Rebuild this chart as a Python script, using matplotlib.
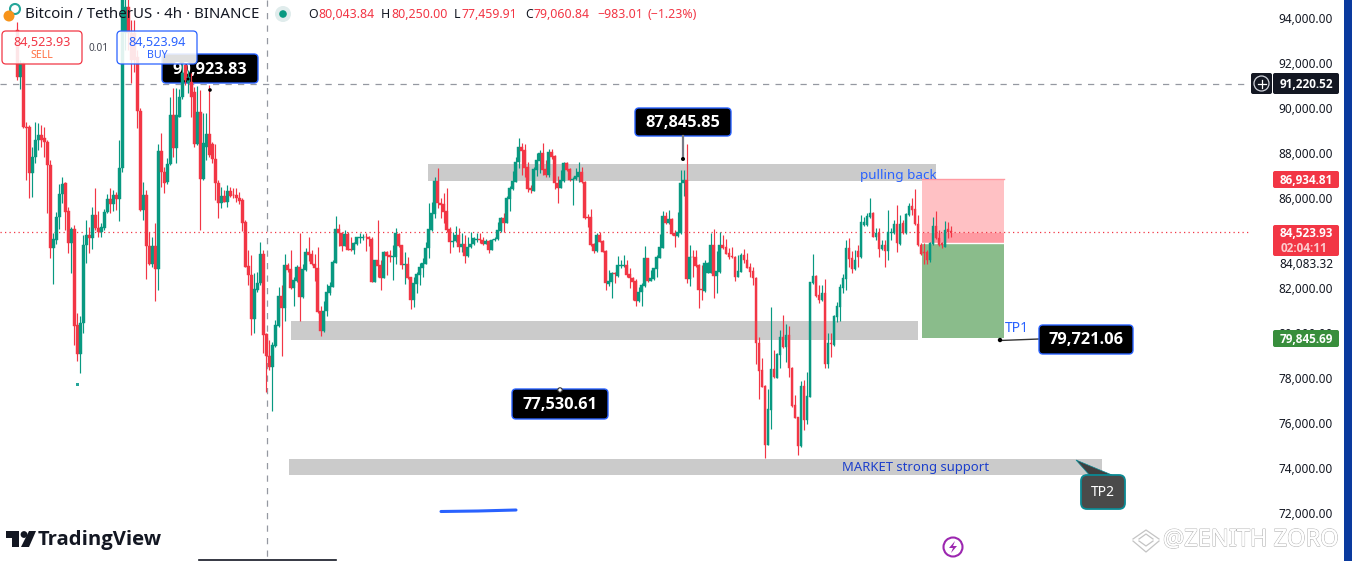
import matplotlib
matplotlib.use("Agg")
import matplotlib.pyplot as plt
import matplotlib.patheffects as pe
import matplotlib.transforms as mtransforms
from matplotlib.patches import FancyBboxPatch, Rectangle, Circle, Polygon

# 4h candles, prices in thousands of USDT
opens = [
    93.49, 91.41, 92.01, 89.19, 89.19, 87.12, 87.86, 88.60, 88.82, 88.67,
    88.52, 87.49, 83.78, 84.15, 85.16, 86.20, 86.67, 85.43, 84.03, 84.63,
    80.38, 79.10, 80.45, 83.93, 84.38, 84.26, 85.26, 84.67, 84.52, 84.67,
    85.40, 85.98, 85.77, 86.15, 85.98, 87.34, 93.34, 94.52, 93.34, 93.34,
    92.30, 89.90, 85.49, 86.15, 83.90, 83.09, 83.90, 82.86, 88.12, 87.19,
    86.75, 87.53, 89.71, 88.23, 89.63, 90.49, 91.93, 91.12, 91.19, 90.75,
    88.42, 89.86, 86.86, 88.30, 88.86, 88.42, 87.74, 86.70, 85.81, 86.11,
    85.84, 86.33, 86.15, 86.15, 86.03, 85.93, 84.95, 83.00, 82.60, 80.64,
    81.93, 82.23, 83.53, 79.97, 79.00, 78.52, 79.44, 80.35, 81.66, 81.15,
    83.04, 82.86, 82.03, 82.33, 82.94, 81.60, 82.82, 83.60, 83.53, 83.07,
    82.89, 81.01, 80.12, 81.01, 81.81, 82.08, 83.15, 84.64, 84.45, 83.89,
    84.42, 83.74, 83.71, 83.98, 84.23, 84.26, 84.30, 84.27, 84.20, 82.30,
    83.27, 83.05, 82.48, 83.61, 83.49, 83.42, 83.42, 84.42, 83.92, 83.05,
    83.08, 82.50, 81.49, 82.20, 82.62, 82.93, 83.09, 83.79, 84.60, 85.31,
    86.78, 85.79, 85.76, 85.45, 84.63, 84.08, 84.13, 84.38, 83.83, 83.98,
    83.46, 83.83, 83.98, 84.17, 84.20, 84.16, 83.98, 84.13, 83.71, 84.16,
    84.19, 84.57, 85.15, 84.93, 85.99, 86.42, 86.75, 87.61, 88.29, 88.16,
    87.40, 86.47, 86.35, 87.27, 87.68, 88.04, 87.30, 87.05, 88.07, 87.89,
    86.67, 86.47, 86.79, 87.59, 87.30, 86.82, 86.85, 86.97, 87.19, 86.75,
    85.16, 85.16, 83.98, 83.67, 84.38, 84.11, 83.67, 82.22, 82.30, 82.70,
    82.56, 83.02, 83.02, 83.05, 82.65, 82.45, 82.35, 81.46, 81.86, 82.13,
    83.34, 82.35, 82.42, 82.87, 83.37, 83.82, 85.22, 84.90, 85.08, 84.45,
    84.35, 84.45, 86.68, 86.82, 82.42, 83.42, 83.39, 83.05, 81.96, 81.89,
    82.70, 82.70, 83.93, 82.57, 82.75, 83.93, 83.86, 83.56, 83.45, 83.42,
    82.53, 82.75, 83.49, 83.27, 82.96, 82.78, 82.48, 79.59, 78.38, 77.67,
    75.05, 76.60, 78.42, 78.04, 79.05, 79.83, 79.42, 79.93, 78.45, 76.82,
    76.30, 75.02, 77.67, 76.16, 77.19, 82.23, 82.56, 81.71, 81.49, 81.79,
    78.65, 79.59, 79.49, 80.75, 81.19, 82.01, 82.42, 83.78, 83.34, 82.87,
    83.67, 83.40, 84.82, 84.82, 85.19, 85.34, 84.27, 84.45, 83.74, 83.93,
    83.68, 84.48, 84.45, 84.86, 83.98, 84.90, 84.45, 85.27, 85.67, 85.52,
    84.86, 83.93, 83.64, 83.61, 83.27, 83.98, 84.78, 84.23, 84.00, 83.86,
    84.63, 84.57,
]
closes = [
    91.41, 92.01, 89.19, 89.12, 87.12, 87.86, 88.60, 88.82, 88.60, 88.52,
    87.49, 83.78, 84.20, 85.19, 86.20, 86.64, 85.41, 84.03, 84.63, 80.35,
    79.10, 80.45, 83.93, 84.38, 84.26, 85.26, 84.67, 84.52, 84.73, 85.40,
    85.98, 85.77, 86.15, 85.98, 87.34, 95.71, 94.52, 93.34, 92.15, 92.15,
    89.90, 85.49, 86.15, 83.90, 83.09, 83.90, 82.86, 88.12, 87.19, 86.70,
    87.53, 89.71, 88.23, 89.71, 90.49, 91.56, 91.26, 91.41, 90.52, 88.42,
    89.86, 86.86, 88.45, 88.86, 87.93, 87.74, 86.70, 85.81, 86.11, 85.84,
    86.33, 86.11, 86.14, 86.00, 85.90, 84.92, 82.97, 82.58, 80.64, 81.97,
    82.26, 83.53, 79.94, 79.00, 78.52, 79.49, 80.38, 81.66, 81.15, 83.04,
    82.82, 82.03, 82.38, 82.94, 81.63, 82.85, 83.60, 83.49, 83.07, 82.89,
    80.97, 80.12, 81.01, 81.83, 82.11, 83.18, 84.64, 84.45, 83.89, 84.42,
    83.71, 83.71, 84.01, 84.27, 84.30, 84.30, 84.27, 84.19, 82.30, 83.27,
    83.02, 82.48, 83.61, 83.46, 83.42, 83.45, 84.45, 83.89, 83.05, 83.08,
    82.48, 81.49, 82.23, 82.65, 82.96, 83.12, 83.79, 84.63, 85.34, 86.78,
    85.79, 85.73, 85.42, 84.60, 84.08, 84.13, 84.38, 83.86, 83.98, 83.46,
    83.86, 83.98, 84.23, 84.22, 84.17, 83.98, 84.13, 83.71, 84.16, 84.20,
    84.60, 85.15, 84.93, 86.02, 86.45, 86.78, 87.61, 88.29, 88.13, 87.37,
    86.44, 86.38, 87.30, 87.71, 88.04, 87.27, 87.05, 88.07, 87.86, 86.67,
    86.47, 86.82, 87.59, 87.27, 86.82, 86.85, 87.00, 87.19, 86.72, 85.12,
    85.13, 83.93, 83.67, 84.38, 84.08, 83.64, 82.23, 82.33, 82.67, 82.65,
    83.05, 83.05, 83.05, 82.60, 82.45, 82.30, 81.46, 81.86, 82.16, 83.34,
    82.35, 82.45, 82.90, 83.42, 83.83, 85.22, 84.90, 85.08, 84.42, 84.35,
    84.50, 86.68, 86.82, 82.42, 83.39, 83.39, 83.02, 81.93, 81.93, 83.12,
    83.12, 83.93, 82.57, 82.78, 83.93, 83.79, 83.53, 83.42, 83.39, 82.53,
    82.78, 83.49, 83.27, 82.93, 82.75, 82.45, 79.56, 78.35, 77.64, 75.05,
    76.63, 78.42, 78.05, 79.09, 79.83, 79.42, 79.93, 78.45, 76.79, 76.26,
    75.02, 77.67, 76.16, 77.22, 82.28, 82.56, 81.68, 81.49, 81.79, 78.65,
    79.56, 79.53, 80.78, 81.22, 82.05, 82.45, 83.78, 83.31, 82.87, 83.27,
    83.40, 84.94, 84.94, 85.22, 85.34, 84.30, 84.45, 83.75, 83.93, 83.67,
    84.53, 84.53, 84.86, 84.00, 84.86, 84.45, 85.31, 85.67, 85.49, 84.85,
    83.93, 83.53, 83.59, 83.27, 84.00, 84.78, 84.23, 83.93, 83.93, 84.60,
    84.53, 84.53,
]
highs = [
    93.86, 92.15, 92.08, 89.41, 89.26, 88.30, 89.41, 89.34, 89.26, 89.19,
    88.60, 87.71, 84.45, 85.40, 86.64, 86.97, 86.75, 85.60, 84.75, 84.82,
    80.89, 80.78, 84.38, 85.04, 84.72, 85.60, 86.45, 85.44, 84.92, 85.55,
    86.20, 86.45, 86.38, 86.30, 88.60, 96.30, 95.26, 95.26, 93.93, 93.93,
    92.60, 90.00, 86.75, 86.38, 84.52, 84.30, 84.92, 88.42, 88.89, 87.41,
    87.78, 90.52, 90.89, 90.89, 90.85, 92.01, 92.01, 91.71, 91.56, 90.97,
    91.00, 90.82, 89.81, 89.78, 91.04, 88.52, 88.42, 86.82, 86.52, 86.38,
    86.60, 86.52, 86.45, 86.45, 86.30, 86.00, 85.04, 83.71, 83.49, 82.67,
    82.75, 84.08, 83.71, 80.00, 79.71, 79.63, 80.60, 82.05, 82.15, 83.53,
    83.12, 83.71, 82.52, 83.04, 84.45, 83.09, 83.78, 84.27, 83.71, 83.53,
    83.83, 81.22, 81.46, 82.20, 82.30, 83.26, 85.22, 84.86, 84.53, 84.60,
    84.51, 84.27, 84.08, 84.30, 84.45, 84.42, 84.45, 84.33, 84.30, 83.27,
    85.05, 83.27, 83.68, 83.68, 83.71, 83.93, 84.70, 84.45, 83.93, 83.64,
    83.42, 82.53, 82.53, 82.75, 83.12, 83.34, 84.05, 85.79, 85.86, 86.94,
    87.34, 86.01, 86.23, 86.45, 84.75, 84.53, 84.78, 84.67, 84.45, 84.38,
    84.30, 84.53, 84.30, 84.45, 84.48, 84.27, 84.19, 84.16, 84.20, 84.27,
    84.97, 85.19, 85.34, 86.11, 86.56, 87.24, 87.86, 88.68, 88.48, 88.42,
    87.64, 86.60, 87.39, 88.04, 88.16, 88.45, 87.71, 88.19, 88.19, 87.93,
    86.98, 87.27, 87.64, 87.64, 87.34, 86.97, 87.34, 87.64, 87.42, 86.78,
    85.31, 85.52, 84.01, 84.45, 84.53, 84.16, 83.71, 82.82, 82.75, 82.75,
    83.45, 83.27, 83.49, 83.27, 82.90, 82.53, 82.41, 82.08, 82.23, 83.89,
    83.34, 82.82, 82.90, 83.49, 84.42, 85.46, 85.42, 85.49, 85.12, 84.60,
    85.42, 87.27, 87.27, 88.42, 83.93, 83.71, 83.71, 83.08, 83.05, 83.27,
    83.19, 84.45, 84.63, 83.68, 84.53, 84.38, 84.19, 83.79, 83.86, 83.45,
    83.49, 83.56, 83.74, 83.56, 83.12, 82.97, 82.53, 79.86, 78.90, 77.71,
    77.52, 81.19, 79.27, 79.12, 80.16, 80.82, 80.42, 80.33, 78.50, 77.27,
    76.30, 77.90, 77.93, 78.30, 82.28, 83.53, 82.60, 82.16, 82.16, 82.41,
    80.01, 80.01, 80.82, 81.42, 82.20, 82.64, 84.15, 84.23, 83.68, 83.71,
    83.93, 85.27, 85.19, 85.34, 86.01, 85.41, 84.67, 84.67, 84.15, 84.15,
    85.49, 84.67, 85.04, 85.71, 85.27, 85.04, 85.37, 85.81, 86.01, 86.41,
    85.27, 84.00, 84.00, 83.71, 84.08, 85.19, 85.44, 84.60, 84.08, 84.98,
    84.97, 84.79,
]
lows = [
    91.26, 90.85, 89.12, 86.82, 86.00, 86.08, 87.56, 88.15, 88.30, 87.86,
    85.34, 83.35, 82.20, 83.98, 84.64, 85.78, 84.60, 83.56, 82.67, 79.49,
    78.79, 78.23, 80.03, 83.15, 83.56, 83.77, 84.60, 84.30, 84.30, 84.60,
    85.34, 85.34, 85.46, 85.49, 85.01, 87.19, 92.60, 92.60, 91.12, 91.63,
    89.12, 85.46, 85.04, 82.42, 83.04, 82.97, 81.46, 81.93, 86.52, 86.26,
    86.64, 87.49, 87.86, 87.56, 89.61, 90.43, 91.04, 90.67, 89.63, 88.30,
    88.38, 84.60, 86.82, 87.71, 87.86, 87.56, 85.93, 85.12, 85.59, 85.83,
    85.63, 86.08, 86.00, 85.86, 85.75, 84.57, 82.97, 82.15, 79.93, 80.00,
    81.86, 82.15, 79.12, 77.41, 78.38, 76.57, 79.41, 80.30, 79.01, 80.55,
    82.75, 81.97, 81.22, 82.30, 80.55, 81.56, 82.79, 83.23, 83.04, 82.33,
    80.89, 79.89, 80.08, 80.79, 81.71, 82.05, 83.12, 83.89, 83.68, 83.89,
    83.71, 83.68, 83.53, 83.93, 84.04, 84.16, 83.68, 83.89, 82.27, 82.27,
    82.53, 81.93, 82.45, 82.60, 83.19, 82.38, 83.08, 83.86, 82.87, 82.20,
    82.44, 81.09, 81.16, 81.82, 82.16, 82.50, 83.09, 83.34, 84.57, 85.15,
    85.56, 85.12, 84.90, 84.53, 83.59, 83.86, 84.08, 83.64, 83.64, 83.12,
    83.42, 83.79, 83.93, 84.08, 84.04, 83.93, 83.98, 83.59, 83.71, 84.13,
    84.16, 84.53, 84.53, 84.90, 85.46, 86.38, 86.72, 87.34, 87.05, 86.97,
    86.28, 86.26, 86.32, 87.00, 87.12, 87.05, 86.97, 86.94, 87.76, 86.42,
    85.82, 86.45, 86.75, 87.20, 86.79, 85.71, 86.82, 86.75, 86.70, 85.09,
    84.75, 83.90, 83.56, 83.64, 84.05, 83.61, 81.93, 82.11, 81.59, 82.23,
    82.53, 82.90, 82.97, 82.53, 82.00, 81.49, 81.24, 81.42, 81.24, 82.08,
    82.30, 82.32, 82.38, 82.50, 83.37, 83.79, 84.87, 84.87, 84.38, 83.86,
    84.30, 84.42, 86.11, 82.23, 82.13, 82.53, 82.97, 81.15, 81.49, 81.86,
    82.67, 82.67, 81.59, 81.82, 82.70, 83.76, 83.52, 83.30, 83.34, 82.33,
    82.50, 82.72, 83.12, 82.90, 82.53, 82.16, 78.65, 77.09, 77.61, 74.48,
    75.05, 75.76, 78.01, 78.01, 78.45, 79.34, 78.75, 78.08, 76.75, 76.23,
    74.60, 74.97, 75.71, 75.98, 77.16, 82.20, 81.64, 81.34, 81.46, 78.45,
    78.45, 78.94, 79.46, 80.53, 80.54, 81.81, 81.93, 82.97, 82.67, 82.82,
    82.97, 83.37, 84.79, 84.79, 85.12, 84.27, 84.15, 83.38, 83.71, 82.97,
    83.27, 84.15, 84.42, 83.64, 83.95, 84.42, 84.42, 85.22, 85.27, 84.82,
    83.89, 83.49, 83.09, 83.09, 83.19, 83.95, 84.20, 83.89, 83.78, 83.83,
    84.23, 84.27,
]

# drawings on the chart: (first candle, last candle, top, bottom)
zone_left = [136.8, 91.2, 90.5]
zone_right = [306.0, 300.0, 361.3]
zone_top = [87.53, 80.55, 74.42]
zone_bottom = [86.78, 79.71, 73.71]
box_left, box_right = 301.4, 328.7
box_top, box_entry, box_bottom = 86.87, 84.00, 79.78
box_overlap = 84.45

# the 84,083.32 label sits off its own level in the picture
tick_values = [94, 92, 90, 88, 86, 83.13, 82, 80, 78, 76, 74, 72]
tick_labels = ["94,000.00", "92,000.00", "90,000.00", "88,000.00", "86,000.00", "84,083.32",
               "82,000.00", "80,000.00", "78,000.00", "76,000.00", "74,000.00", "72,000.00"]
last_price = 84.49

RED = "#F23645"
GREEN = "#089981"
BLUE = "#2962FF"

W, H = 1352, 561
fig = plt.figure(figsize=(W / 100, H / 100), dpi=100)
ax = fig.add_axes([0, 0, 1, 1])
ax.set_xlim(-5.773, 444.6)
ax.set_ylim(69.89, 94.82)
ax.axis("off")
plt.rcParams["font.family"] = ["Noto Sans", "DejaVu Sans"]

# pixel coordinates of the screenshot, y going down
px = mtransforms.Affine2D().scale(1, -1).translate(0, H)
# text sits about a pixel high with this font
tx = px + mtransforms.Affine2D().translate(0, -1)
tx_price = mtransforms.blended_transform_factory(px, ax.transData + mtransforms.Affine2D().translate(0, -1))
px_price = mtransforms.blended_transform_factory(px, ax.transData)

# zones and long position box
for l, r, t, b in zip(zone_left, zone_right, zone_top, zone_bottom):
    ax.add_patch(Rectangle((l, b), r - l, t - b, fc="#CBCBCB", ec="none", zorder=1))
ax.add_patch(Rectangle((box_left, box_entry), box_right - box_left, box_top - box_entry,
                       fc="#FFC1C4", ec="none", zorder=1.2))
ax.add_patch(Rectangle((box_left, box_entry), box_right - box_left, box_overlap - box_entry,
                       fc="#FF9AA2", ec="none", zorder=1.3))
ax.add_patch(Rectangle((box_left, box_bottom), box_right - box_left, box_entry - box_bottom,
                       fc="#8ABC8B", ec="none", zorder=1.2))
ax.plot([box_left, box_right], [box_top, box_top], color="#FF9AA2", lw=1, zorder=1.4)
ax.plot([box_left, box_right], [box_entry, box_entry], color="white", lw=1, zorder=1.4)

# crosshair and last price line
ax.plot([0, 1250], [83.5, 83.5], transform=px, color="#9598A1", lw=0.9, ls=(0, (5, 5)), zorder=1.5)
ax.plot([267, 267], [0, H], transform=px, color="#9598A1", lw=0.9, ls=(0, (5, 5)), zorder=1.5)
ax.plot([0, 1250], [last_price, last_price], transform=px_price, color=RED, lw=0.9, ls=(0, (1, 2.6)), zorder=1.5)


def note(x0, y0, x1, y1, text, z=2):
    # black price note with the blue outline
    r = 4
    ax.add_patch(FancyBboxPatch((x0 + r, y0 + r), x1 - x0 - 2 * r, y1 - y0 - 2 * r,
                                boxstyle=f"round,pad={r},rounding_size={r}", transform=px,
                                fc="black", ec=BLUE, lw=1, zorder=z))
    ax.text((x0 + x1) / 2, (y0 + y1) / 2, text, transform=tx, color="white", fontsize=11.8,
            family="Open Sans", fontweight="bold", ha="center", va="center", zorder=z)


# this one sits under the candles
note(162, 54, 258, 83, "90,923.83")

# candles
xs = list(range(len(opens)))
colors = [GREEN if c >= o else RED for o, c in zip(opens, closes)]
ax.vlines(xs, lows, highs, colors=colors, lw=0.85, zorder=3)
ax.bar(xs, [abs(c - o) for o, c in zip(opens, closes)], bottom=[min(o, c) for o, c in zip(opens, closes)],
       width=0.86, color=colors, edgecolor=colors, lw=0.3, zorder=3.1)

ax.add_patch(Circle((188, 79), 1.5, transform=px, fc="black", zorder=4))
ax.add_patch(Circle((210, 90), 1.8, transform=px, fc="black", zorder=4))
ax.add_patch(Rectangle((76, 383), 2.5, 2.5, transform=px, fc="#26A69A", ec="none", zorder=4))

note(635, 108, 731, 136, "87,845.85", z=5)
ax.plot([683, 683], [136, 158], transform=px, color="#787B86", lw=1.6, zorder=5)
ax.add_patch(Circle((683, 159), 2, transform=px, fc="black", zorder=6))
note(1039, 325, 1133, 354, "79,721.06", z=5)
ax.plot([1000, 1039], [340.5, 339], transform=px, color="#333333", lw=1, zorder=4.9)
ax.add_patch(Circle((1000, 340), 2.2, transform=px, fc="black", zorder=6))
note(512, 389, 608, 419, "77,530.61", z=5)
ax.add_patch(Circle((560, 390), 2.2, transform=px, fc="white", ec="#333333", lw=0.8, zorder=6))

ax.text(860, 174, "pulling back", transform=tx, color=BLUE, fontsize=9.7, va="center", zorder=5)
ax.text(1005, 328, "TP1", transform=tx, color=BLUE, fontsize=10, va="center", zorder=5)
ax.text(842, 466, "MARKET strong support", transform=tx, color="#1C3FCB", fontsize=9.4, va="center", zorder=5)
ax.plot([441, 478, 516], [511.5, 511, 510], transform=px, color=BLUE, lw=2.2, solid_capstyle="round", zorder=5)

# TP2 callout
ax.add_patch(Polygon([(1076, 460), (1112, 475), (1092, 478)], transform=px, fc="#3F3F3F", ec="#0B8A94", lw=0.5, zorder=5))
ax.add_patch(FancyBboxPatch((1086, 480), 34, 24, boxstyle="round,pad=5,rounding_size=6", transform=px,
                            fc="#4A4A4A", ec="#0B8A94", lw=1.3, zorder=5))
ax.text(1103, 491, "TP2", transform=tx, color="white", fontsize=10, ha="center", va="center", zorder=6)

# price scale
for v, s in zip(tick_values, tick_labels):
    ax.text(1333, v, s, transform=tx_price, color="#131722", fontsize=8.5, ha="right", va="center", zorder=6)


def scale_tag(y0, y1, color):
    ax.add_patch(FancyBboxPatch((1274, y0 + 1), 64, y1 - y0 - 2, boxstyle="round,pad=1,rounding_size=2",
                                transform=px, fc=color, ec="none", zorder=7))


def scale_text(y, text):
    ax.text(1333, y, text, transform=tx, color="white", fontsize=8.5, family="Open Sans",
            fontweight="bold", ha="right", va="center", zorder=8)


scale_tag(73, 94, "#131722")
scale_text(83, "91,220.52")
ax.add_patch(FancyBboxPatch((1252, 74), 19, 19, boxstyle="round,pad=1,rounding_size=2", transform=px, fc="#131722", ec="none", zorder=7))
ax.add_patch(Circle((1261.5, 83.5), 7.5, transform=px, fc="none", ec="#D1D4DC", lw=0.9, zorder=8))
ax.plot([1257.5, 1265.5], [83.5, 83.5], transform=px, color="white", lw=0.9, zorder=8)
ax.plot([1261.5, 1261.5], [79.5, 87.5], transform=px, color="white", lw=0.9, zorder=8)
scale_tag(171, 188, RED)
scale_text(179.5, "86,934.81")
scale_tag(225, 256, RED)
scale_text(232.5, "84,523.93")
ax.text(1281, 248, "02:04:11", transform=tx, color="#FCCBCD", fontsize=8.5, family="Open Sans",
        fontweight="bold", ha="left", va="center", zorder=8)
scale_tag(330, 347, "#388E3C")
scale_text(338.5, "79,845.69")
ax.add_patch(Rectangle((1344, 0), 8, H, transform=px, fc="#0A3A9E", ec="none", zorder=9))

# legend line
ax.add_patch(Circle((15, 9), 5, transform=px, fc="white", ec="#26A69A", lw=1.5, zorder=8))
ax.add_patch(Circle((9, 16), 5.5, transform=px, fc="#F7931A", ec="none", zorder=9))
ax.text(25, 14, "Bitcoin / TetherUS · 4h · BINANCE", transform=tx, color="#131722", fontsize=10.8, va="center", zorder=8)
ax.add_patch(Circle((283, 14), 8, transform=px, fc="#E0ECEC", ec="none", zorder=8))
ax.add_patch(Circle((283, 14), 3.8, transform=px, fc=GREEN, ec="none", zorder=9))
for x, s, c in [(308, "O", "#131722"), (318, "80,043.84", RED), (381, "H", "#131722"), (391, "80,250.00", RED),
                (454, "L", "#131722"), (462, "77,459.91", RED), (525, "C", "#131722"), (534, "79,060.84", RED),
                (597, "−983.01", RED), (648, "(−1.23%)", RED)]:
    ax.text(x, 14, s, transform=tx, color=c, fontsize=8.9, va="center", zorder=8)

# sell / buy buttons
for x0, col, price, side in [(2, RED, "84,523.93", "SELL"), (117, BLUE, "84,523.94", "BUY")]:
    ax.add_patch(FancyBboxPatch((x0 + 4, 35), 72, 25, boxstyle="round,pad=4,rounding_size=4", transform=px,
                                fc=(1, 1, 1, 0.88), ec=col, lw=0.9, zorder=8))
    ax.text(x0 + 40, 41, price, transform=tx, color=col, fontsize=9.1, ha="center", va="center", zorder=9)
    ax.text(x0 + 40, 55, side, transform=tx, color="#FF7043" if side == "SELL" else col, fontsize=7.6, ha="center", va="center", zorder=9)
ax.text(99, 47.5, "0.01", transform=tx, color="#434651", fontsize=7.2, ha="center", va="center", zorder=8)

# TradingView mark
ax.add_patch(Polygon([(6, 531), (19, 531), (19, 547), (12, 547), (12, 538), (6, 538)], transform=px, fc="#131722", ec="none", zorder=8))
ax.add_patch(Circle((24, 534.5), 3.4, transform=px, fc="#131722", ec="none", zorder=8))
ax.add_patch(Polygon([(29, 531), (36, 531), (29, 547), (21, 547)], transform=px, fc="#131722", ec="none", zorder=8))
ax.text(38, 539, "TradingView", transform=tx, color="#131722", fontsize=14.6, family="Open Sans", fontweight="bold", va="center", zorder=8)
ax.plot([199, 336], [560, 560], transform=px, color="#131722", lw=1.2, zorder=8)

# lightning badge
ax.add_patch(Circle((953, 547), 9.5, transform=px, fc="white", ec="#9C27B0", lw=1.5, zorder=8))
ax.add_patch(Polygon([(955, 541), (949, 548), (953, 548), (951, 553), (957, 546), (953, 546)], transform=px, fc="#9C27B0", ec="none", zorder=9))

# watermark
ax.text(1163, 539, "@ZENITH ZORO", transform=tx, color="white", fontsize=17, va="center", zorder=6,
        path_effects=[pe.withStroke(linewidth=0.9, foreground="#B5B5B5"), pe.Normal()])
for pts in ([(1133, 539), (1146, 530), (1159, 539)], [(1139, 539), (1146, 534), (1153, 539)],
            [(1133, 541), (1146, 552), (1159, 541)], [(1139, 541), (1146, 546), (1153, 541)]):
    ax.plot([p[0] for p in pts], [p[1] for p in pts], transform=px, color="#C4C4C4", lw=0.9, zorder=6)

fig.savefig("out.png", dpi=100)
